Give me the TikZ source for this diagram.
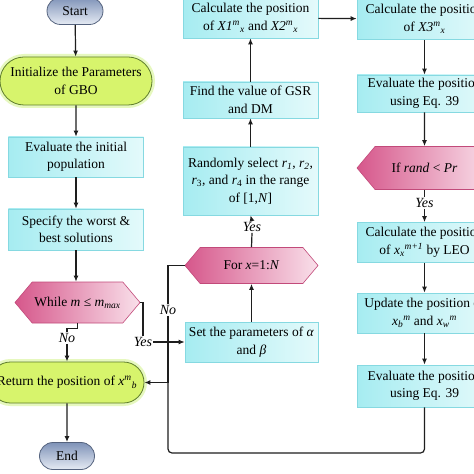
\documentclass[tikz,border=0pt]{standalone}
\usepackage{fontspec}
\setmainfont{Liberation Serif}
\usetikzlibrary{arrows.meta,shapes.misc,shapes.symbols,calc}
\definecolor{cyanA}{HTML}{A6ECF1}
\definecolor{cyanB}{HTML}{E4FAFB}
\definecolor{cyanD}{HTML}{86D9E1}
\definecolor{greenF}{HTML}{D7F46C}
\definecolor{greenD}{HTML}{5E7D2C}
\definecolor{greenG}{HTML}{E6F8BE}
\definecolor{pinkA}{HTML}{D6578B}
\definecolor{pinkB}{HTML}{F9E0EA}
\definecolor{pinkD}{HTML}{C24A7A}
\definecolor{termA}{HTML}{7F93B8}
\definecolor{termB}{HTML}{E6EBF4}
\definecolor{termD}{HTML}{55637E}
\definecolor{lineC}{HTML}{1E1E1E}
\tikzset{
  txt/.style={font=\fontsize{13.5bp}{17.5bp}\selectfont, align=center},
  box/.style={txt, rectangle, draw=cyanD, line width=0.6bp, left color=cyanA, right color=cyanB,
     minimum width=135bp, inner sep=1bp},
  term/.style={txt, rounded rectangle, draw=termD, line width=0.8bp, top color=termA, bottom color=termB,
     minimum width=58bp, minimum height=27bp, inner sep=1bp},
  pill/.style={txt, rounded rectangle, draw=greenD, line width=0.8bp, fill=greenF,
     preaction={draw=greenG, line width=6bp}, inner sep=1bp},
  dec/.style={txt, signal, signal to=west and east, signal pointer angle=100,
     draw=pinkD, line width=0.6bp, left color=pinkA, right color=pinkB, inner sep=1bp},
  lab/.style={font=\fontsize{14bp}{16bp}\selectfont\itshape, fill=white, inner sep=1bp},
  arr/.style={-{Latex[length=6bp,width=5bp]}, line width=1.2bp, draw=lineC},
  ln/.style={line width=1.2bp, draw=lineC},
}
\begin{document}
\begin{tikzpicture}[x=1bp,y=-1bp]
\useasboundingbox[fill=white] (0,0) rectangle (474,474);
% left column
\node[term] (start) at (75,11) {Start};
\node[pill, minimum width=154bp, minimum height=48bp] (init) at (76,81) {Initialize the Parameters\\of GBO};
\node[box, minimum height=40bp] (evalinit) at (76,157) {Evaluate the initial\\population};
\node[box, minimum height=41bp] (spec) at (76,229.5) {Specify the worst \&\\best solutions};
\node[dec, minimum width=125bp, minimum height=41bp] (while) at (77.5,302.5)
  {While \textit{m} ≤ \textit{m}\textsubscript{\textit{max}}};
\node[pill, minimum width=156bp, minimum height=41bp] (ret) at (67,382.5)
  {Return the position of \textit{x}\textsuperscript{\textit{m}}\textsubscript{\textit{b}}};
\node[term, minimum width=57bp] (end) at (67,456) {End};
% middle column
\node[box, minimum height=40bp] (calc1) at (250.5,18)
  {Calculate the position\\of \textit{X1}\textsuperscript{\textit{m}}\textsubscript{\textit{x}} and \textit{X2}\textsuperscript{\textit{m}}\textsubscript{\textit{x}}};
\node[box, minimum height=36bp] (find) at (250.5,100) {Find the value of GSR\\and DM};
\node[box, minimum height=68bp] (rand) at (250.5,181)
  {Randomly select \textit{r}\textsubscript{\textit{1}}, \textit{r}\textsubscript{\textit{2}},\\
   \textit{r}\textsubscript{3}, and \textit{r}\textsubscript{4} in the range\\of [1,\textit{N}]};
\node[dec, minimum width=133bp, minimum height=36bp] (for) at (251.5,265.5) {For \textit{x}=1:\textit{N}};
\node[box, minimum width=133bp, minimum height=40bp] (set) at (251.5,342)
  {Set the parameters of \textit{α}\\and \textit{β}};
% right column
\node[box, minimum height=41bp] (calc3) at (424.5,19)
  {Calculate the position\\of \textit{X3}\textsuperscript{\textit{m}}\textsubscript{\textit{x}}};
\node[box, minimum height=37bp] (eval1) at (424.5,93.5) {Evaluate the position\\using Eq. 39};
\node[dec, minimum width=135bp, minimum height=43bp] (if) at (424.5,168)
  {If \textit{rand} < \textit{Pr}};
\node[box, minimum height=40bp] (leo) at (424.5,242.5)
  {Calculate the position\\of \textit{x}\textsubscript{\textit{x}}\textsuperscript{\textit{m+1}} by LEO};
\node[box, minimum height=40bp] (upd) at (424.5,313)
  {Update the position of\\\textit{x}\textsubscript{\textit{b}}\textsuperscript{\textit{m}} and \textit{x}\textsubscript{\textit{w}}\textsuperscript{\textit{m}}};
\node[box, minimum height=42bp] (eval2) at (424.5,386) {Evaluate the position\\using Eq. 39};
% labels
\node[lab] (no1) at (67,338) {No};
\node[lab] (yes1) at (143,342) {Yes};
\node[lab] (no2) at (168,310) {No};
\node[lab] (yes2) at (252,227) {Yes};
\node[lab] (yes3) at (424.5,203) {Yes};
\coordinate (jn) at (168,382.5);
\coordinate (cb) at (168,453);
% connectors
\draw[arr] (start) -- (init);
\draw[arr] (init) -- (evalinit);
\draw[arr] (evalinit) -- (spec);
\draw[arr] (spec.south) -- (spec.south |- while.north);
\draw[ln] (while.south) -- ++(0,5) -| (no1.north);
\draw[arr] (no1.south) -- (ret.north);
\draw[ln] (while.east) -| (yes1.north);
\draw[arr] (yes1.east) -- (yes1.east -| set.west);
\draw[arr] (ret) -- (end);
\draw[ln] (for.west) -| (no2.north);
\draw[ln] (no2.south) -- (jn);
\draw[arr] (jn) -- (ret.east);
\draw[ln, rounded corners=4bp] (eval2.south) |- (cb) -- (jn);
\draw[arr] (set.north) -- (for.south);
\draw[ln] (for.north) -- (yes2.south);
\draw[arr] (yes2.north) -- (rand.south);
\draw[arr] (rand) -- (find);
\draw[arr] (find) -- (calc1);
\draw[arr] (calc1) -- (calc3);
\draw[arr] (calc3) -- (eval1);
\draw[arr] (eval1) -- (if);
\draw[ln] (if.south) -- (yes3.north);
\draw[arr] (yes3.south) -- (leo);
\draw[arr] (leo) -- (upd);
\draw[arr] (upd) -- (eval2);
\end{tikzpicture}
\end{document}
